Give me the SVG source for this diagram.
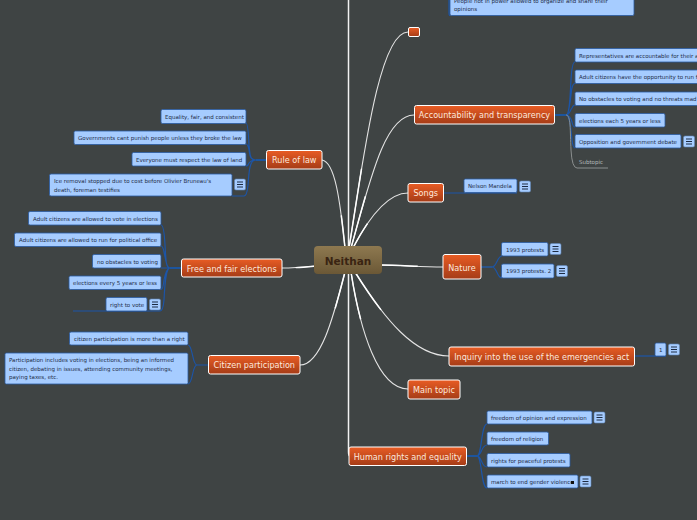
<svg xmlns="http://www.w3.org/2000/svg" width="697" height="520" viewBox="0 0 697 520">
<style>
text{font-family:"DejaVu Sans",Verdana,sans-serif}
.t rect{fill:url(#o);stroke:#fff;stroke-width:1}
.t text{fill:#fde8dc;font-size:8.1px;text-anchor:middle}
.l rect{fill:#a6ccff;stroke:#2a5ba2;stroke-width:.8}
.l text{fill:#1f2c48;font-size:5.5px}
.w{fill:none;stroke:#e4e4e4;stroke-width:1.1}
.k{fill:none;stroke:#fff;stroke-width:1.5;stroke-dasharray:35 100}
.v{fill:none;stroke:#f2f2f2;stroke-width:1.5}
.b{fill:none;stroke:#1c55a8;stroke-width:1.2}
.h{fill:none;stroke:#0a5fd0;stroke-width:1.3}
</style>
<defs>
<linearGradient id="o" x1="0" y1="0" x2="0" y2="1"><stop offset="0" stop-color="#e85c24"/><stop offset="1" stop-color="#a53c17"/></linearGradient>
<linearGradient id="c" x1="0" y1="0" x2="0" y2="1"><stop offset="0" stop-color="#8e7950"/><stop offset="1" stop-color="#6b5836"/></linearGradient>
<g id="m"><rect width="11" height="11" rx="1.5" fill="#a6ccff" stroke="#5f86b8" stroke-width=".6"/><path d="M2.500 3H8.500M2.500 5.500H8.500M2.500 8H8.500" stroke="#1d2c44" stroke-width="1" fill="none"/></g>
</defs>
<rect width="697" height="520" fill="#3f4444"/>
<g id="connectors">
<path class="v" d="M348.500 250V0"/>
<path class="w" d="M349 248C362 170 378 32 408 32"/><path class="k" pathLength="100" d="M349 248C362 170 378 32 408 32"/>
<path class="w" d="M351 248C370 180 385 115 414 115"/><path class="k" pathLength="100" d="M351 248C370 180 385 115 414 115"/>
<path class="w" d="M353 248C365 225 385 193 408 193"/><path class="k" pathLength="100" d="M353 248C365 225 385 193 408 193"/>
<path class="w" d="M345 248C340 200 335 162 322 160"/><path class="k" pathLength="100" d="M345 248C340 200 335 162 322 160"/>
<path class="w" d="M380 265C400 265 420 267 443 267"/><path class="k" style="stroke-dasharray:60 100" pathLength="100" d="M380 265C400 265 420 267 443 267"/>
<path class="w" d="M316 266C305 267 295 268 282 268"/><path class="k" style="stroke-dasharray:60 100" pathLength="100" d="M316 266C305 267 295 268 282 268"/>
<path class="w" d="M355 272C385 320 415 356 449 356"/><path class="k" pathLength="100" d="M355 272C385 320 415 356 449 356"/>
<path class="w" d="M351 272C360 330 378 389 408 389"/><path class="k" pathLength="100" d="M351 272C360 330 378 389 408 389"/>
<path class="w" d="M345 272C335 310 322 365 300 365"/><path class="k" pathLength="100" d="M345 272C335 310 322 365 300 365"/>
<path class="v" d="M348.500 272V452Q348.500 456 350 456"/>
<path class="b" d="M450 15.500Q449 15.500 449 13V0"/>
<path class="b" d="M255.500 160C250 160 250 155 249 145Q248 123 246 123M255.500 160C250 160 250 155 249 150Q248 144 246 144M255.500 160Q250 160 248 165Q247 166 246 166M255.500 160C250 160 249 170 248 185Q247 196 244 196H232"/>
<path class="h" d="M267 160H255.500"/>
<path class="b" d="M170 268C166 268 166 262 165 245Q164 225 161 225M170 268C166 268 165 256 164 252Q163 246 161 246M170 268H161M170 268C167 268 165 275 164 280Q163 289.500 161 289.500M170 268C166 268 165 280 164 300Q163 311 160 311H73"/>
<path class="h" d="M182 268H170"/>
<path class="b" d="M197 365C192 365 193 345 188 345M197 365C192 365 193 384 188 384M208 365H197"/>
<path class="b" d="M566 115C570 115 570 95 571 80Q572 62 575 62M566 115C570 115 571 90 572 88Q573 83.500 575 83.500M566 115C570 115 571 108 572 108Q573 105 575 105M566 115Q570 115 572 122Q573 127 575 127M566 115C570 115 571 130 572 140Q573 148 575 148"/>
<path d="M566 115C571 115 570 130 571 150Q572 168 577 168H608" fill="none" stroke="#8b8f8f" stroke-width="1"/>
<path class="h" d="M554 115H566"/>
<path class="b" d="M443 193H517"/>
<path class="b" d="M492 267C497 267 497 256 502 256M492 267C497 267 497 278 502 278"/>
<path class="h" style="stroke:#1f5cb0" d="M481 267H492"/>
<path class="b" d="M634 356H666"/>
<path class="b" d="M477 456C482 456 481 424 487 424M477 456C482 456 481 445 487 445M477 456C482 456 481 467 487 467M477 456C482 456 481 488 487 488"/>
<path class="h" d="M466 456H477"/>
</g>
<g id="center"><rect x="314" y="246" width="68" height="28" rx="4" fill="url(#c)"/><text x="348" y="265" font-size="10.500" font-weight="bold" fill="#3a2412" text-anchor="middle">Neithan</text></g>
<g id="rule-of-law" class="t"><rect x="266.500" y="150.500" width="55.500" height="18.500" rx="2"/><text x="294.300" y="163">Rule of law</text></g>
<g id="free-fair" class="t"><rect x="181.500" y="259" width="100.500" height="18" rx="2"/><text x="231.700" y="271.500">Free and fair elections</text></g>
<g id="citizen" class="t"><rect x="208.500" y="355.500" width="91.500" height="18.500" rx="2"/><text x="254.300" y="368">Citizen participation</text></g>
<g id="empty" class="t"><rect x="408.500" y="27.500" width="11" height="9" rx="1.500"/></g>
<g id="accountability" class="t"><rect x="414.500" y="105.500" width="140" height="18.500" rx="2"/><text x="484.500" y="118">Accountability and transparency</text></g>
<g id="songs" class="t"><rect x="408" y="183.500" width="35.500" height="18.500" rx="2"/><text x="425.700" y="196">Songs</text></g>
<g id="nature" class="t"><rect x="443" y="254.500" width="38" height="24.500" rx="2"/><text x="462" y="270.500">Nature</text></g>
<g id="inquiry" class="t"><rect x="449" y="347" width="185.500" height="19" rx="2"/><text x="541.700" y="360">Inquiry into the use of the emergencies act</text></g>
<g id="main-topic" class="t"><rect x="408" y="380" width="52" height="19" rx="2"/><text x="434" y="393">Main topic</text></g>
<g id="human" class="t"><rect x="349" y="447" width="117.500" height="18.500" rx="2"/><text x="407.700" y="459.500">Human rights and equality</text></g>
<g id="rol-1" class="l"><rect x="161" y="109.500" width="85" height="14" rx="1.500"/><text x="165" y="118.800">Equality, fair, and consistent</text></g>
<g id="rol-2" class="l"><rect x="74" y="131" width="172" height="13.500" rx="1.500"/><text x="78" y="140">Governments cant punish people unless they broke the law</text></g>
<g id="rol-3" class="l"><rect x="132" y="152.500" width="114" height="13.500" rx="1.500"/><text x="136" y="161.500">Everyone must respect the law of land</text></g>
<g id="rol-4" class="l"><rect x="49.500" y="174" width="182.500" height="22" rx="1.500"/><text x="54" y="182.800">Ice removal stopped due to cost before Olivier Bruneau's</text><text x="54" y="191.500">death, foreman testifies</text><use href="#m" x="234.500" y="179"/></g>
<g id="ff-1" class="l"><rect x="28.500" y="211.500" width="132.500" height="13.500" rx="1.500"/><text x="33" y="220.500">Adult citizens are allowed to vote in elections</text></g>
<g id="ff-2" class="l"><rect x="14.500" y="233" width="146.500" height="13.500" rx="1.500"/><text x="19" y="242">Adult citizens are allowed to run for political office</text></g>
<g id="ff-3" class="l"><rect x="92.500" y="254.500" width="68.500" height="13.500" rx="1.500"/><text x="97" y="263.500">no obstacles to voting</text></g>
<g id="ff-4" class="l"><rect x="69" y="276" width="92" height="13.500" rx="1.500"/><text x="73" y="285">elections every 5 years or less</text></g>
<g id="ff-5" class="l"><rect x="106" y="297.500" width="41" height="13.500" rx="1.500"/><text x="110" y="306.500">right to vote</text><use href="#m" x="149.500" y="299"/></g>
<g id="cp-1" class="l"><rect x="69.500" y="332" width="118.500" height="13" rx="1.500"/><text x="74" y="340.800">citizen participation is more than a right</text></g>
<g id="cp-2" class="l"><rect x="5" y="353" width="183" height="31" rx="1.500"/><text x="9" y="361.800">Participation includes voting in elections, being an informed</text><text x="9" y="370.500">citizen, debating in issues, attending community meetings,</text><text x="9" y="379">paying taxes, etc.</text></g>
<g id="top-leaf" class="l"><rect x="450" y="-10" width="184" height="25.500" rx="1.500"/><text x="454" y="3">People not in power allowed to organize and share their</text><text x="454" y="11">opinions</text></g>
<g id="ac-1" class="l"><rect x="575" y="48.500" width="130" height="13.500" rx="1.500"/><text x="579" y="57.500">Representatives are accountable for their a</text></g>
<g id="ac-2" class="l"><rect x="575" y="70" width="130" height="13.500" rx="1.500"/><text x="579" y="79">Adult citizens have the opportunity to run f</text></g>
<g id="ac-3" class="l"><rect x="575" y="92" width="130" height="13.500" rx="1.500"/><text x="579" y="101">No obstacles to voting and no threats mad</text></g>
<g id="ac-4" class="l"><rect x="575" y="113.500" width="90" height="13.500" rx="1.500"/><text x="579" y="122.500">elections each 5 years or less</text></g>
<g id="ac-5" class="l"><rect x="575" y="134.500" width="106" height="13.500" rx="1.500"/><text x="579" y="143.500">Opposition and government debate</text><use href="#m" x="683.500" y="136"/></g>
<g id="ac-6"><text x="579" y="164" font-size="5.500" fill="#b4b8b8">Subtopic</text></g>
<g id="so-1" class="l"><rect x="464" y="179" width="53" height="13.500" rx="1.500"/><text x="468" y="188">Nelson Mandela</text><use href="#m" x="519.500" y="181"/></g>
<g id="na-1" class="l"><rect x="501.500" y="242.500" width="46.500" height="13.500" rx="1.500"/><text x="506" y="251.500">1993 protests</text><use href="#m" x="550" y="243.500"/></g>
<g id="na-2" class="l"><rect x="501.500" y="264" width="52.500" height="14" rx="1.500"/><text x="506" y="273">1993 protests. 2</text><use href="#m" x="556.500" y="265.500"/></g>
<g id="in-1" class="l"><rect x="655" y="343" width="11" height="13" rx="1.500"/><text x="659" y="352">1</text><use href="#m" x="668.500" y="344"/></g>
<g id="hr-1" class="l"><rect x="487" y="411" width="105" height="13" rx="1.500"/><text x="491" y="419.800">freedom of opinion and expression</text><use href="#m" x="594" y="412"/></g>
<g id="hr-2" class="l"><rect x="487" y="432" width="61.500" height="13" rx="1.500"/><text x="491" y="440.800">freedom of religion</text></g>
<g id="hr-3" class="l"><rect x="487" y="453.500" width="83" height="13.500" rx="1.500"/><text x="491" y="462.500">rights for peaceful protests</text></g>
<g id="hr-4" class="l"><rect x="487" y="475" width="91" height="13" rx="1.500"/><text x="491" y="483.800">march to end gender violence</text><use href="#m" x="580" y="476"/><rect x="571" y="481" width="3" height="3" style="fill:#111;stroke:none"/></g>
</svg>
